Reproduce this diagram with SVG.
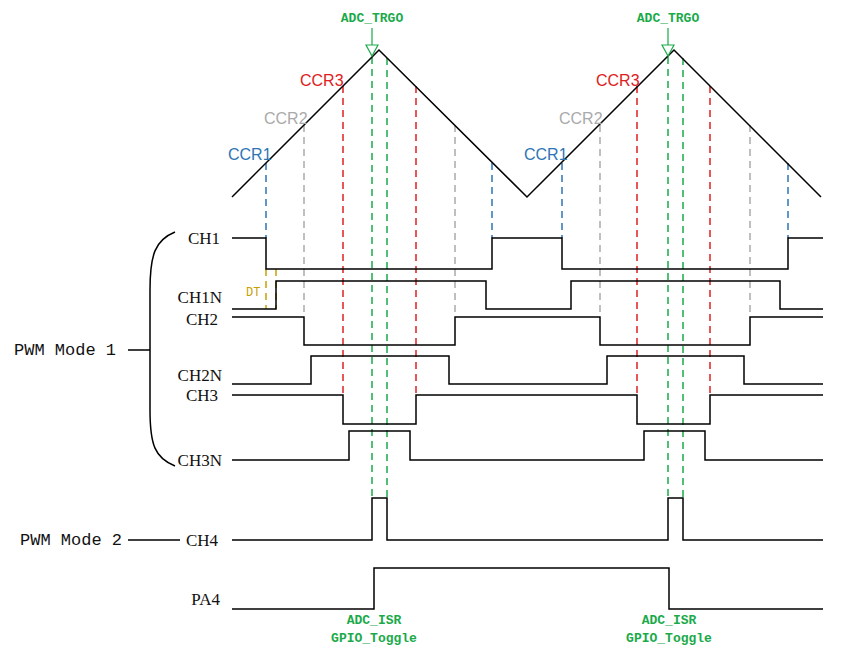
<svg xmlns="http://www.w3.org/2000/svg" width="865" height="654" viewBox="0 0 865 654">
<style>
.w{fill:none;stroke:#000;stroke-width:1.5}
.d{fill:none;stroke-width:1.5;stroke-dasharray:7,5}
.b{stroke:#2e75b6}.g{stroke:#aaa}.r{stroke:#e02020}.gr{stroke:#1aaa4a}.y{stroke:#c9a000}
.lab{font-family:"Liberation Serif",serif;font-size:17px;fill:#111}
.ccr{font-family:"Liberation Sans",sans-serif;font-size:16px}
.gt{font-family:"Liberation Mono",monospace;font-size:13px;font-weight:bold;fill:#1aaa4a;text-anchor:middle}
</style>
<rect width="865" height="654" fill="#fff"/>
<g id="guides">
<path class="d b" d="M266,163V238M492,163V238M562,163V238M788,163V238"/>
<path class="d g" d="M304,125V317M455,125V317M600,125V317M750,125V317"/>
<path class="d r" d="M343,86V395M416,86V395M637,86V395M710,86V395"/>
<path class="d gr" d="M372,57V498M387,58V498M668,57V498M683,58V498"/>
<path class="d y" d="M266,269V309M276,269V309"/>
</g>
<g id="carrier"><path class="w" d="M232,197L379,50L527,197L674,50L821,197"/></g>
<g id="labels">
<text class="ccr" x="228" y="160" fill="#2e75b6">CCR1</text>
<text class="ccr" x="264" y="124" fill="#aaa">CCR2</text>
<text class="ccr" x="300" y="86" fill="#e02020">CCR3</text>
<text class="ccr" x="524" y="160" fill="#2e75b6">CCR1</text>
<text class="ccr" x="559" y="124" fill="#aaa">CCR2</text>
<text class="ccr" x="596" y="86" fill="#e02020">CCR3</text>
<text class="gt" x="372" y="22">ADC_TRGO</text>
<text class="gt" x="668" y="22">ADC_TRGO</text>
<text class="gt" x="374" y="624">ADC_ISR</text>
<text class="gt" x="374" y="642">GPIO_Toggle</text>
<text class="gt" x="669" y="624">ADC_ISR</text>
<text class="gt" x="669" y="642">GPIO_Toggle</text>
<text x="246" y="296" font-family="Liberation Mono,monospace" font-size="12" fill="#c9a000">DT</text>
</g>
<g id="trgo-arrows" fill="#fff" stroke="#1aaa4a" stroke-width="1.2">
<path d="M372,28V45M668,28V45"/>
<path d="M366,45H378L372,56Z M662,45H674L668,56Z"/>
</g>
<g id="signals" class="lab" text-anchor="end">
<text x="220" y="244">CH1</text><text x="222" y="303">CH1N</text>
<text x="218" y="325">CH2</text><text x="222" y="381">CH2N</text>
<text x="218" y="401">CH3</text><text x="222" y="466">CH3N</text>
<text x="218" y="546">CH4</text><text x="220" y="605">PA4</text>
</g>
<g id="waves">
<path class="w" d="M232,238H266V269H492V238H562V269H788V238H823"/>
<path class="w" d="M232,309H276V281H486V309H571V281H780V309H823"/>
<path class="w" d="M232,317H304V345H455V317H600V345H750V317H823"/>
<path class="w" d="M232,384H311V356H449V384H607V356H744V384H823"/>
<path class="w" d="M232,395H343V424H416V395H637V424H710V395H823"/>
<path class="w" d="M232,460H349V431H410V460H644V431H705V460H823"/>
<path class="w" d="M232,540H372V498H387V540H668V498H683V540H823"/>
<path class="w" d="M232,609H374V568H669V609H823"/>
</g>
<g id="modes">
<text class="lab" x="14" y="355" style="font-family:'Liberation Mono',monospace;font-size:17px">PWM Mode 1</text>
<path class="w" stroke-width="1.2" d="M128,350H150M175,232C155,240 150,255 150,290V410C150,445 155,458 175,466"/>
<text class="lab" x="20" y="545" style="font-family:'Liberation Mono',monospace;font-size:17px">PWM Mode 2</text>
<path class="w" stroke-width="1.2" d="M128,540H180"/>
</g>
</svg>
